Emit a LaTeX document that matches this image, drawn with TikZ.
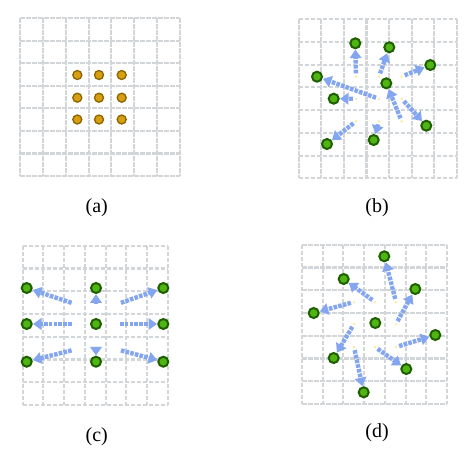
\documentclass[tikz,border=0pt]{standalone}
\usepackage{fontspec}
\setmainfont{Liberation Serif}
\usetikzlibrary{arrows.meta}
\definecolor{gridc}{RGB}{210,214,216}
\definecolor{arrc}{RGB}{132,166,240}
\definecolor{gfill}{RGB}{80,180,20}
\definecolor{gdraw}{RGB}{30,95,0}
\definecolor{ofill}{RGB}{214,158,18}
\definecolor{odraw}{RGB}{140,100,0}
\definecolor{yel}{RGB}{250,238,170}
\tikzset{
  gridline/.style={draw=gridc, line width=2.1pt, dash pattern=on 4.5pt off 1.5pt},
  gdot/.style={circle, fill=gfill, draw=gdraw, line width=2pt, minimum size=10pt, inner sep=0pt},
  odot/.style={circle, fill=ofill, draw=odraw, line width=1.3pt, minimum size=9pt, inner sep=0pt},
  ydot/.style={circle, fill=yel, minimum size=3pt, inner sep=0pt},
  arr/.style={draw=arrc, line width=4.4pt, dash pattern=on 3.6pt off 1.2pt,
    -{Triangle[length=8.5pt,width=11.5pt]}, shorten <=1.5pt, shorten >=0.3pt},
  lab/.style={font=\fontsize{20}{22}\selectfont, inner sep=0pt}
}
\newcommand{\pgrid}[4]{%
  \foreach \i in {0,...,7}{
    \draw[gridline] ({#1+\i*(#3-#1)/7},#2) -- ({#1+\i*(#3-#1)/7},#4);
    \draw[gridline] (#1,{#2+\i*(#4-#2)/7}) -- (#3,{#2+\i*(#4-#2)/7});
  }}
\begin{document}
\begin{tikzpicture}[x=1pt,y=-1pt]
\useasboundingbox[fill=white] (0,0) rectangle (474,448);
% grids
\pgrid{20}{18.3}{180}{176}
\pgrid{298.7}{19.3}{457}{178.3}
\pgrid{22.7}{245.7}{167.7}{405}
\pgrid{302}{244.7}{447}{404}
% (a)
\foreach \r/\yy in {1/75,2/97.7,3/119.5}{
  \foreach \c/\xx in {1/77.3,2/99,3/121.7}{
    \node[odot] (a\r\c) at (\xx,\yy) {};
  }}
\node[lab] (la) at (96.7,208) {(a)};
% (b) origins
\foreach \r/\yy in {1/76.5,2/98.8,3/121.3}{
  \foreach \c/\xx in {1/356,2/379,3/401.7}{
    \node[ydot] (b\r\c) at (\xx,\yy) {};
  }}
\node[gdot] (gb1) at (355.3,43.3) {};
\node[gdot] (gb2) at (389.3,47.3) {};
\node[gdot] (gb3) at (430.3,65) {};
\node[gdot] (gb4) at (317,76.7) {};
\node[gdot] (gb5) at (386.3,83.3) {};
\node[gdot] (gb6) at (333.7,98.7) {};
\node[gdot] (gb7) at (426.3,125.7) {};
\node[gdot] (gb8) at (327,144) {};
\node[gdot] (gb9) at (373.7,140) {};
\draw[arr] (b11) -- (gb1);
\draw[arr] (b12) -- (gb2);
\draw[arr] (b13) -- (gb3);
\draw[arr] (b22) -- (gb4);
\draw[arr] (b33) -- (gb5);
\draw[arr] (b21) -- (gb6);
\draw[arr] (b23) -- (gb7);
\draw[arr] (b31) -- (gb8);
\draw[arr] (b32) -- (gb9);
\node[lab] (lb) at (377,208) {(b)};
% (c)
\node[gdot] (gc1) at (26.7,288) {};
\node[gdot] (gc2) at (96,288) {};
\node[gdot] (gc3) at (163.3,288) {};
\node[gdot] (gc4) at (26.7,324) {};
\node[gdot] (gc5) at (96,324) {};
\node[gdot] (gc6) at (163.3,324) {};
\node[gdot] (gc7) at (26.7,361.7) {};
\node[gdot] (gc8) at (96,361.7) {};
\node[gdot] (gc9) at (163.3,361.7) {};
\coordinate (c1) at (73,303.3);
\coordinate (c3) at (119.5,303.3);
\coordinate (c4) at (73,324);
\coordinate (c6) at (118.5,324);
\coordinate (c7) at (73,350);
\coordinate (c9) at (119.5,350);
\coordinate (c2) at (96,302);
\coordinate (c8) at (96,348);
\draw[arr] (c1) -- (gc1);
\draw[arr] (c3) -- (gc3);
\draw[arr] (c4) -- (gc4);
\draw[arr] (c6) -- (gc6);
\draw[arr] (c7) -- (gc7);
\draw[arr] (c9) -- (gc9);
\draw[arr] (c2) -- (gc2);
\draw[arr] (c8) -- (gc8);
\node[lab] (lc) at (96.7,437) {(c)};
% (d)
\foreach \r/\yy in {1/302,2/324,3/347}{
  \foreach \c/\xx in {1/354,2/375,3/396}{
    \node[ydot] (d\r\c) at (\xx,\yy) {};
  }}
\node[gdot] (gd1) at (384.3,256.3) {};
\node[gdot] (gd2) at (343.7,279) {};
\node[gdot] (gd3) at (415.3,289) {};
\node[gdot] (gd4) at (313.7,313) {};
\node[gdot] (gd5) at (375.3,323) {};
\node[gdot] (gd6) at (435.3,335) {};
\node[gdot] (gd7) at (333.7,358) {};
\node[gdot] (gd8) at (406.3,369) {};
\node[gdot] (gd9) at (363.7,392.3) {};
\draw[arr] (d13) -- (gd1);
\draw[arr] (d12) -- (gd2);
\draw[arr] (d23) -- (gd3);
\draw[arr] (d11) -- (gd4);
\draw[arr] (d33) -- (gd6);
\draw[arr] (d21) -- (gd7);
\draw[arr] (d32) -- (gd8);
\draw[arr] (d31) -- (gd9);
\node[lab] (ld) at (377,433) {(d)};
\end{tikzpicture}
\end{document}
